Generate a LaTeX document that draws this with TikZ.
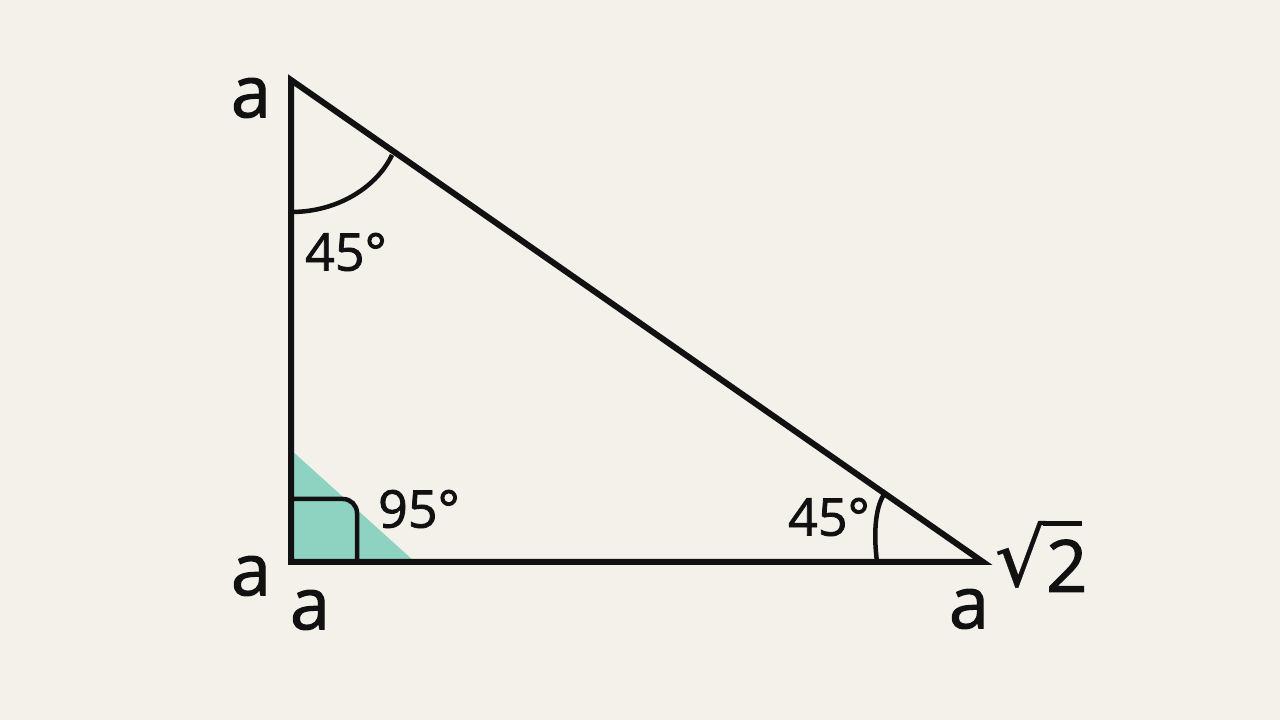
\documentclass[tikz,border=0pt]{standalone}
\usepackage{fontspec}
\setmainfont{Open Sans}[FakeBold=1.5]
\newfontfamily\symf{DejaVu Sans}[FakeBold=0.5]
\definecolor{bgc}{HTML}{F3F1EA}
\definecolor{tealc}{HTML}{8ED2C2}
\definecolor{inkc}{HTML}{111111}
\begin{document}
\begin{tikzpicture}[x=1pt,y=1pt,
  edge/.style={draw=inkc,line width=6pt,line join=miter},
  anglemark/.style={draw=inkc,line width=4.5pt},
  lbl/.style={inner sep=0pt,text=inkc,font=\fontsize{72}{76}\selectfont},
  ang/.style={inner sep=0pt,text=inkc,font=\fontsize{52}{56}\selectfont}]
\fill[bgc] (0,0) rectangle (1280,720);
\useasboundingbox (0,0) rectangle (1280,720);
\coordinate (A) at (291,640);
\coordinate (B) at (291,158);
\coordinate (C) at (983,158);
% teal wedge
\fill[tealc] (291,270) -- (B) -- (415,158) -- cycle;
% right angle mark
\draw[anglemark,rounded corners=14pt] (291,221) -- (357,221) -- (357,158);
% angle arcs
\draw[anglemark] (291,508) .. controls (340,508) and (378,535) .. (392,565);
\draw[anglemark] (877,158) .. controls (873,190) and (876,215) .. (885,227);
% triangle
\draw[edge] (A) -- (B) -- (C) -- cycle;
% labels
\node[lbl] (la) at (251,622) {a};
\node[lbl] (lb) at (251,144) {a};
\node[lbl] (lc) at (310,110) {a};
\node[lbl] (ld) at (969,111) {a};
\node[ang] (t1) at (346,468) {45°};
\node[ang] (t2) at (419,211) {95°};
\node[ang] (t3) at (829,203) {45°};
% square root of 2
\node[inner sep=0pt,text=inkc,font=\fontsize{72}{76}\selectfont,anchor=south west] (two) at (1046,128) {2};
\node[inner sep=0pt,text=inkc,font=\symf\fontsize{80}{84}\selectfont,anchor=north east] (rad) at (1046,199) {√};
\draw[inkc,line width=5pt] (rad.north east) ++(-3,-2.5) -- (1082,196.5) coordinate (vinc);
\end{tikzpicture}
\end{document}
